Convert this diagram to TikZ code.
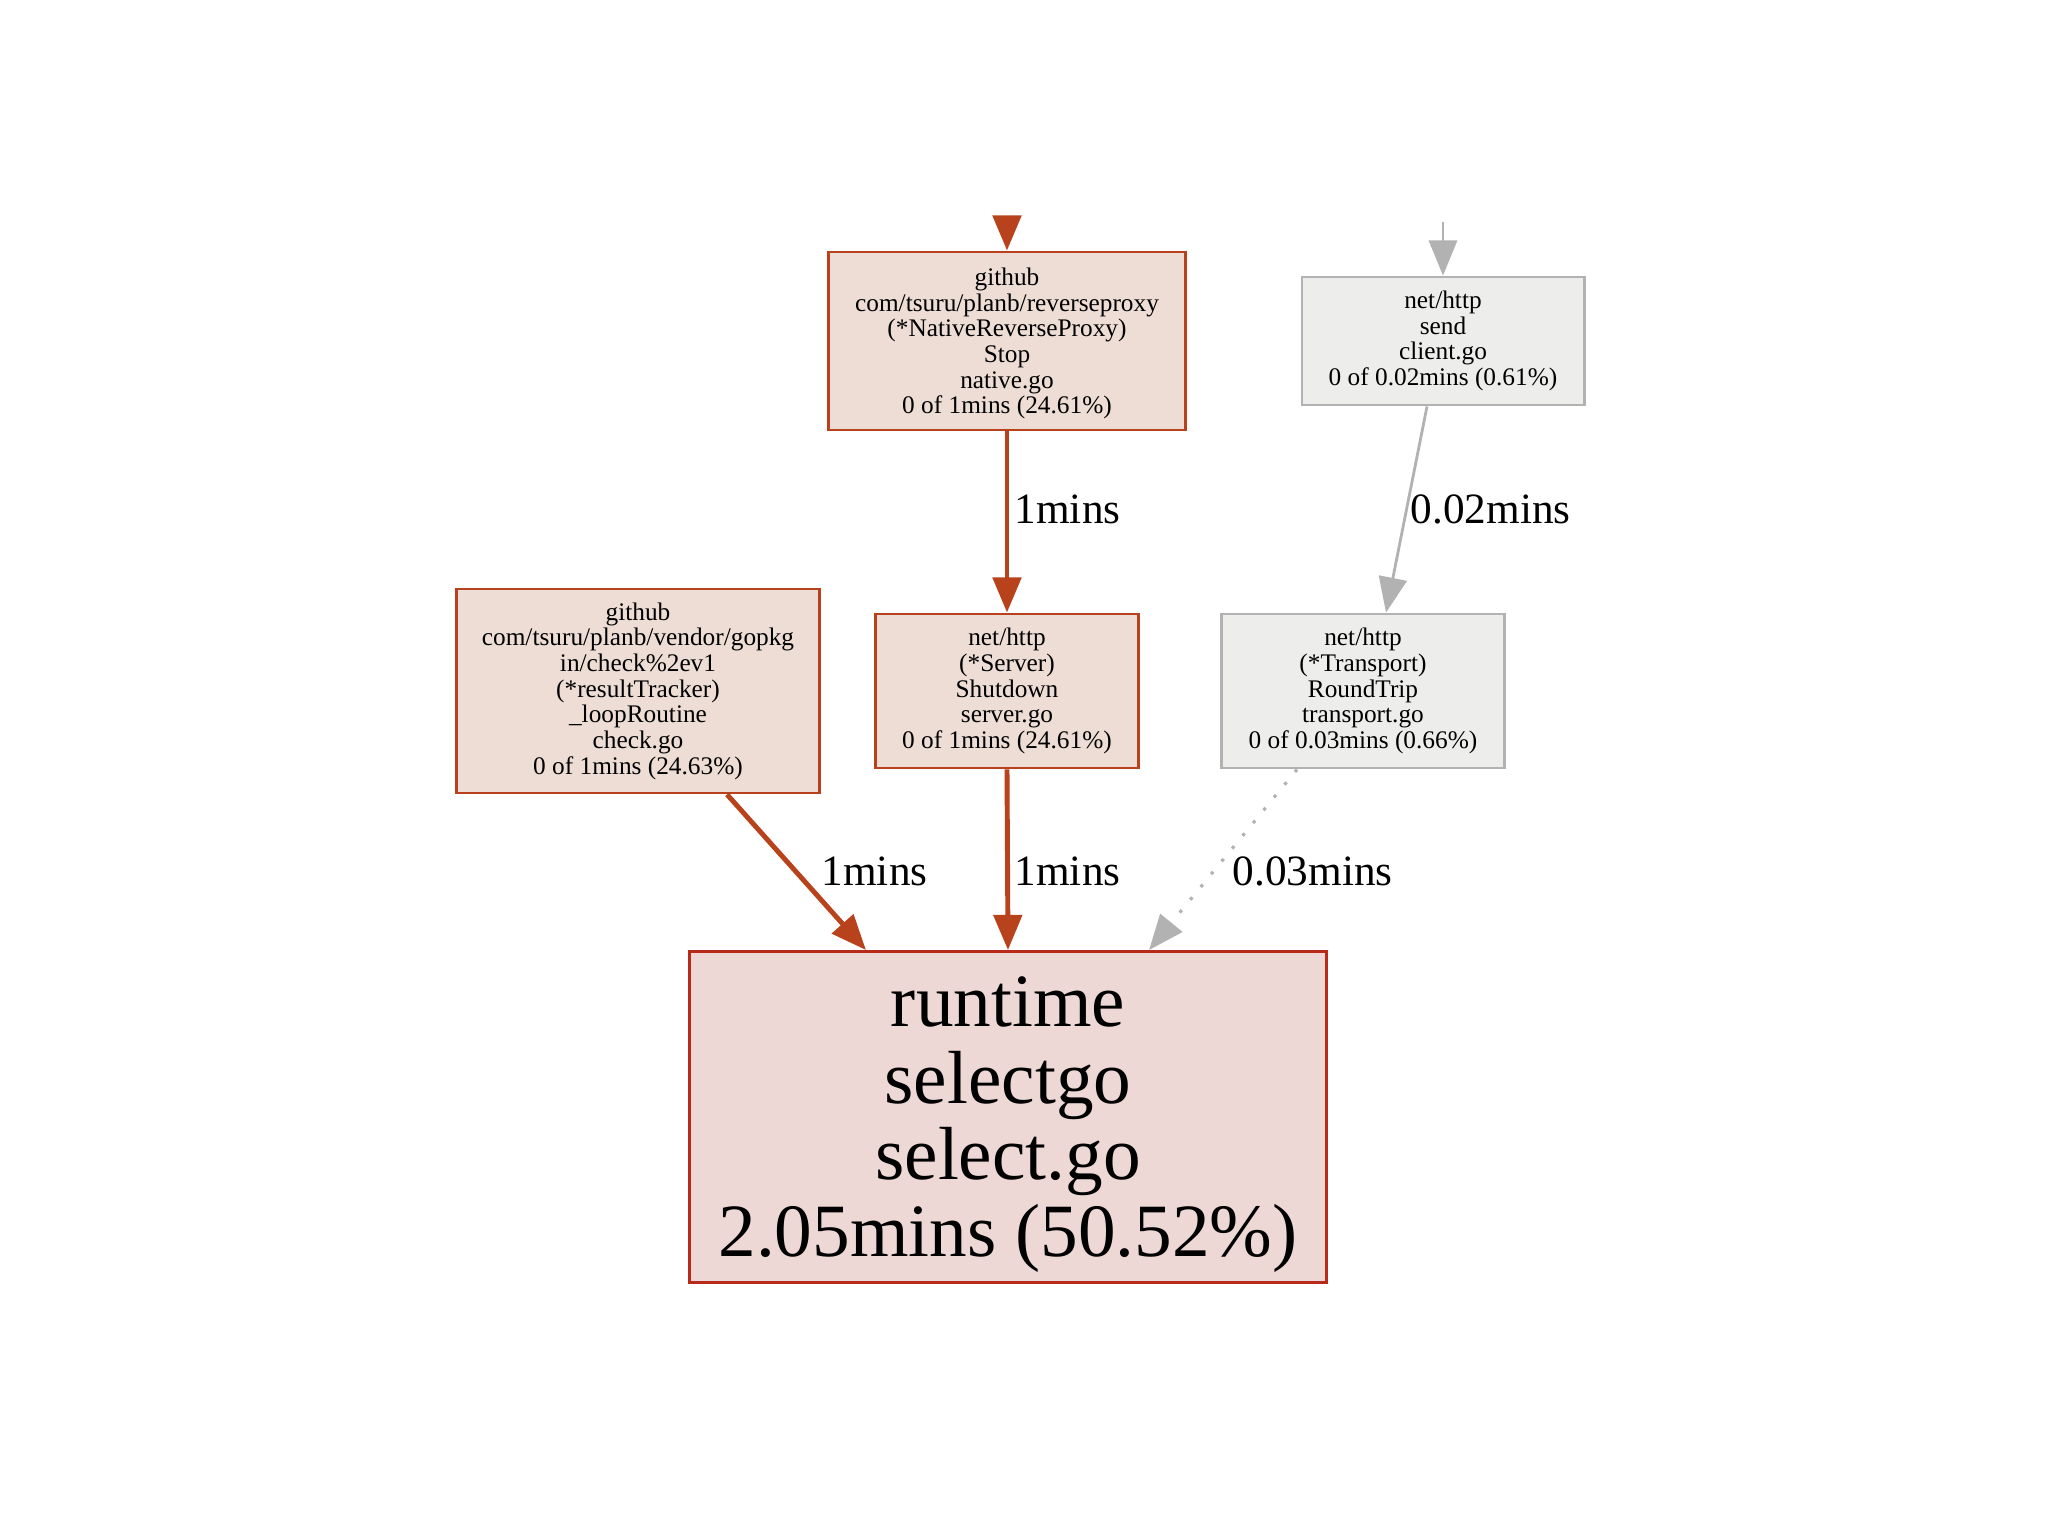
\documentclass[tikz,border=0pt]{standalone}
\usepackage{fontspec}
\setmainfont{Liberation Serif}
\usetikzlibrary{arrows.meta}

\definecolor{hotfill}{HTML}{EDDDD5}
\definecolor{hotline}{HTML}{B8421C}
\definecolor{topfill}{HTML}{EDD8D6}
\definecolor{topline}{HTML}{B82A1A}
\definecolor{coldfill}{HTML}{EDEDEC}
\definecolor{coldline}{HTML}{B2B2B2}

\tikzset{
  fnbox/.style={draw=hotline, fill=hotfill, line width=0.8pt, align=center,
    inner sep=0pt, font=\fontsize{7.2}{7.3}\selectfont},
  coldbox/.style={fnbox, draw=coldline, fill=coldfill},
  bigbox/.style={fnbox, draw=topline, fill=topfill,
    font=\fontsize{21.4}{21.8}\selectfont},
  hotedge/.style={draw=hotline, line width=1.4pt, -{Triangle[width=8pt,length=10pt]}},
  coldedge/.style={draw=coldline, line width=0.8pt, -{Triangle[width=8pt,length=10pt]}},
  edgelabel/.style={anchor=west, inner sep=0pt, font=\fontsize{12.3}{14}\selectfont}
}

\begin{document}
\begin{tikzpicture}[x=0.01cm,y=-0.01cm]

  \useasboundingbox[fill=white] (0,0) rectangle (2048,1536);

  \node[fnbox, minimum width=3.57cm, minimum height=1.78cm] (stop) at (1007,341)
    {\rule{0pt}{6.5pt}github\\com/tsuru/planb/reverseproxy\\(*NativeReverseProxy)\\Stop\\native.go\\0 of 1mins (24.61\%)};
  \node[coldbox, minimum width=2.82cm, minimum height=1.28cm] (send) at (1443,341)
    {net/http\\send\\client.go\\0 of 0.02mins (0.61\%)};

  \node[fnbox, minimum width=3.63cm, minimum height=2.04cm] (check) at (638,691)
    {github\\com/tsuru/planb/vendor/gopkg\\in/check\%2ev1\\(*resultTracker)\\\_loopRoutine\\check.go\\0 of 1mins (24.63\%)};
  \node[fnbox, minimum width=2.63cm, minimum height=1.54cm] (shutdown) at (1007,691)
    {net/http\\(*Server)\\Shutdown\\server.go\\0 of 1mins (24.61\%)};
  \node[coldbox, minimum width=2.83cm, minimum height=1.54cm] (roundtrip) at (1363,691)
    {net/http\\(*Transport)\\RoundTrip\\transport.go\\0 of 0.03mins (0.66\%)};

  \node[bigbox, minimum width=6.36cm, minimum height=3.31cm] (selectgo) at (1008,1117)
    {\rule{0pt}{18.5pt}runtime\\selectgo\\select.go\\2.05mins (50.52\%)};

  \coordinate (stopin) at (1007,222);
  \coordinate (sendin) at (1443,222);

  \draw[hotedge] (stopin) -- (stop.north);
  \draw[coldedge] (sendin) -- (send.north);

  \draw[hotedge] (stop.south) -- (shutdown.north);
  \draw[coldedge] ([xshift=-0.16cm]send.south) -- ([xshift=0.23cm]roundtrip.north);
  \node[edgelabel] (l1) at (1014,509) {1mins};
  \node[edgelabel] (l2) at (1410,509) {0.02mins};

  \draw[hotedge] ([xshift=0.89cm]check.south) -- ([xshift=-1.42cm]selectgo.north);
  \draw[hotedge] (shutdown.south) -- (selectgo.north);
  \draw[coldedge, line width=0.9pt, dash pattern=on 0.9pt off 3.8pt]
    ([xshift=-0.66cm]roundtrip.south) -- ([xshift=1.41cm]selectgo.north);
  \node[edgelabel] (l3) at (821,871) {1mins};
  \node[edgelabel] (l4) at (1014,871) {1mins};
  \node[edgelabel] (l5) at (1232,871) {0.03mins};

\end{tikzpicture}
\end{document}
